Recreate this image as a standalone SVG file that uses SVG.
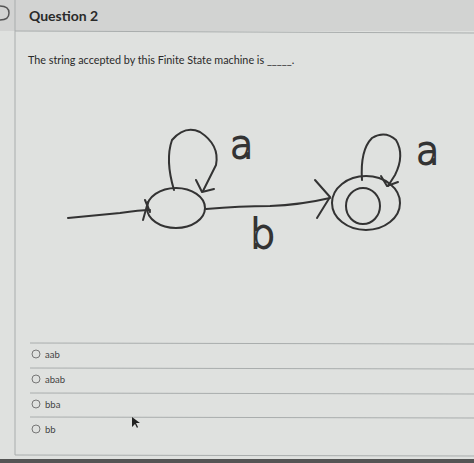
<svg xmlns="http://www.w3.org/2000/svg" width="474" height="463" viewBox="0 0 474 463">
<style>
.ui{font-family:Lato,"Liberation Sans",sans-serif;fill:#2a2a2a}
.rule{stroke:#a9adad;stroke-width:1;fill:none}
.ink{stroke:#333;stroke-width:2;fill:none;stroke-linecap:round;stroke-linejoin:round}
.hand{font-family:"DejaVu Sans",sans-serif;font-weight:300;fill:none;stroke:#333;stroke-width:1.8}
.radio{fill:none;stroke:#777;stroke-width:1}
.opt{font-family:Lato,"Liberation Sans",sans-serif;font-size:9.5px;fill:#444}
</style>
<rect width="474" height="463" fill="#dfe1df"/>
<rect width="474" height="31" fill="#d2d3d2"/>
<path d="M0,6 Q9,6 9,13 Q9,20 0,20" fill="none" stroke="#555" stroke-width="1.5"/>
<line class="rule" x1="15" y1="0" x2="15" y2="455"/>
<line class="rule" x1="15" y1="31" x2="474" y2="33"/>
<line class="rule" x1="15" y1="455" x2="474" y2="456"/>
<rect x="0" y="459" width="474" height="4" fill="#555"/>
<text class="ui" x="29" y="21" font-size="14" font-weight="bold">Question 2</text>
<text class="ui" x="28" y="64" font-size="10.8">The string accepted by this Finite State machine is <tspan>_____.</tspan></text>

<g id="connectors">
  <path class="ink" d="M68,218 Q100,215 120,213 Q140,210 150,210"/>
  <path class="ink" d="M143,220 L148,202 M145,200 L150,212"/>
  <path class="ink" d="M174,190 Q165,160 172,140 Q185,125 200,132 Q220,145 216,165 L203,191"/>
  <path class="ink" d="M196,180 L202,192 L214,189"/>
  <path class="ink" d="M206,209 Q240,206 270,206 Q300,205 330,198"/>
  <path class="ink" d="M315,180 L330,197 L317,218"/>
  <path class="ink" d="M362,180 Q360,150 372,138 Q385,130 396,140 Q405,155 395,175 L388,186"/>
  <path class="ink" d="M381,176 L387,186 L398,182"/>
</g>
<g id="state-q0">
  <ellipse class="ink" cx="176" cy="208" rx="29" ry="20"/>
</g>
<g id="state-q1">
  <ellipse class="ink" cx="366" cy="203" rx="34" ry="27"/>
  <ellipse class="ink" cx="363" cy="206" rx="17" ry="18"/>
</g>
<g id="labels">
  <text class="hand" x="230" y="158" font-size="38">a</text>
  <text class="hand" x="416" y="164" font-size="38">a</text>
  <text class="hand" x="250" y="248" font-size="40">b</text>
</g>

<g id="options">
  <line class="rule" x1="30" y1="343" x2="474" y2="344"/>
  <line class="rule" x1="30" y1="368" x2="474" y2="369"/>
  <line class="rule" x1="30" y1="393" x2="474" y2="394"/>
  <line class="rule" x1="30" y1="417" x2="474" y2="418"/>
  <circle class="radio" cx="36" cy="354" r="4"/>
  <circle class="radio" cx="36" cy="379" r="4"/>
  <circle class="radio" cx="36" cy="404" r="4"/>
  <circle class="radio" cx="36" cy="429" r="4"/>
  <text class="opt" x="45" y="358">aab</text>
  <text class="opt" x="45" y="383">abab</text>
  <text class="opt" x="45" y="408">bba</text>
  <text class="opt" x="45" y="433">bb</text>
</g>
<path d="M132,417 L132,427 L135,424 L137,428 L138,427 L136,423 L140,423 Z" fill="#222"/>
</svg>
